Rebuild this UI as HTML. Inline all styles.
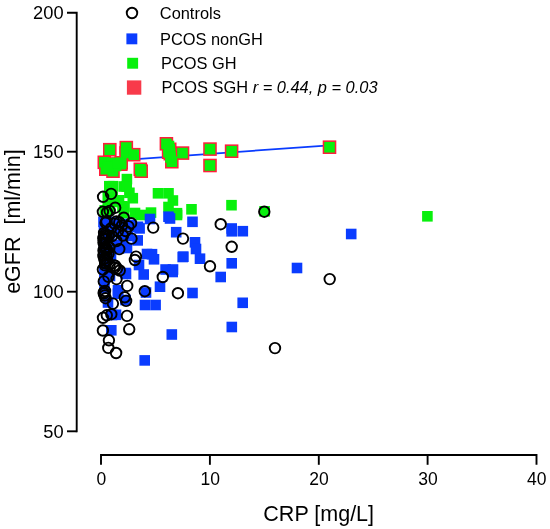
<!DOCTYPE html>
<html><head><meta charset="utf-8"><title>eGFR vs CRP</title>
<style>
html,body{margin:0;padding:0;background:#fff;}
body{width:550px;height:529px;overflow:hidden;}
svg{display:block;}
text{font-family:"Liberation Sans",Arial,sans-serif;fill:#000;}
.t{font-size:17.5px;}
.l{font-size:16.4px;}
.a{font-size:21.5px;}
</style></head><body>
<svg width="550" height="529" viewBox="0 0 550 529">
<rect width="550" height="529" fill="#fff"/>

<g stroke="#000" stroke-width="1.9" fill="none">
<path d="M67 12.7H76.7V432.2"/>
<path d="M67 151.7H76.7"/>
<path d="M67 291.7H76.7"/>
<path d="M67 431.3H76.7"/>
<path d="M101 464.8V455H536.5V464.8"/>
<path d="M209.9 455V464.8"/>
<path d="M318.8 455V464.8"/>
<path d="M427.6 455V464.8"/>
</g>
<text class="t" transform="translate(63.6 18.6) scale(1.045 1)" text-anchor="end">200</text>
<text class="t" transform="translate(63.6 157.6) scale(1.045 1)" text-anchor="end">150</text>
<text class="t" transform="translate(63.6 297.6) scale(1.045 1)" text-anchor="end">100</text>
<text class="t" transform="translate(63.6 437.8) scale(1.045 1)" text-anchor="end">50</text>
<text class="t" x="101.3" y="485.2" text-anchor="middle">0</text>
<text class="t" x="210.2" y="485.2" text-anchor="middle">10</text>
<text class="t" x="319.1" y="485.2" text-anchor="middle">20</text>
<text class="t" x="427.9" y="485.2" text-anchor="middle">30</text>
<text class="t" x="536.8" y="485.2" text-anchor="middle">40</text>
<text class="a" x="318.7" y="521" text-anchor="middle">CRP [mg/L]</text>
<text class="a" transform="translate(20.4 221.6) rotate(-90)" text-anchor="middle" xml:space="preserve">eGFR  [ml/min]</text>
<circle cx="132" cy="13" r="5.25" fill="none" stroke="#000" stroke-width="1.9"/>
<rect x="126.4" y="33.4" width="10.9" height="10.9" fill="#0a3cff"/>
<rect x="127.2" y="57.8" width="10.9" height="10.9" fill="#08f00c"/>
<rect x="126.9" y="80.4" width="14.4" height="14.3" fill="#f83a4a"/>
<text class="l" x="159.8" y="19">Controls</text>
<text class="l" x="160" y="44.5">PCOS nonGH</text>
<text class="l" x="161" y="68.7">PCOS GH</text>
<text class="l" x="161.6" y="92.7">PCOS SGH <tspan font-style="italic">r = 0.44, p = 0.03</tspan></text>
<path d="M101 161.6L329.5 145.3" stroke="#0a3cff" stroke-width="1.8" fill="none"/>
<g fill="#08f00c">
<rect x="104.0" y="180.9" width="10.6" height="10.6"/>
<rect x="107.8" y="180.9" width="10.6" height="10.6"/>
<rect x="102.5" y="191.7" width="10.6" height="10.6"/>
<rect x="107.3" y="191.2" width="10.6" height="10.6"/>
<rect x="121.6" y="173.8" width="10.6" height="10.6"/>
<rect x="118.6" y="181.2" width="10.6" height="10.6"/>
<rect x="121.4" y="181.2" width="10.6" height="10.6"/>
<rect x="124.1" y="187.5" width="10.6" height="10.6"/>
<rect x="127.5" y="192.9" width="10.6" height="10.6"/>
<rect x="113.7" y="195.0" width="10.6" height="10.6"/>
<rect x="117.2" y="201.0" width="10.6" height="10.6"/>
<rect x="119.2" y="201.7" width="10.6" height="10.6"/>
<rect x="118.7" y="207.9" width="10.6" height="10.6"/>
<rect x="102.5" y="201.7" width="10.6" height="10.6"/>
<rect x="102.5" y="204.9" width="10.6" height="10.6"/>
<rect x="99.5" y="205.0" width="10.6" height="10.6"/>
<rect x="103.4" y="202.7" width="10.6" height="10.6"/>
<rect x="107.7" y="196.7" width="10.6" height="10.6"/>
<rect x="129.7" y="207.7" width="10.6" height="10.6"/>
<rect x="145.7" y="207.3" width="10.6" height="10.6"/>
<rect x="135.4" y="209.7" width="10.6" height="10.6"/>
<rect x="152.7" y="188.0" width="10.6" height="10.6"/>
<rect x="163.2" y="188.0" width="10.6" height="10.6"/>
<rect x="167.6" y="195.2" width="10.6" height="10.6"/>
<rect x="163.2" y="201.7" width="10.6" height="10.6"/>
<rect x="171.7" y="209.7" width="10.6" height="10.6"/>
<rect x="171.7" y="207.9" width="10.6" height="10.6"/>
<rect x="186.2" y="204.0" width="10.6" height="10.6"/>
<rect x="226.2" y="199.9" width="10.6" height="10.6"/>
<rect x="259.3" y="206.0" width="10.6" height="10.6"/>
<rect x="422.1" y="211.0" width="10.6" height="10.6"/>
</g>
<g fill="#ff1e3c">
<rect x="103.0" y="142.9" width="13.6" height="13.6"/>
<rect x="119.5" y="140.8" width="13.6" height="13.6"/>
<rect x="119.2" y="146.2" width="13.6" height="13.6"/>
<rect x="126.9" y="147.9" width="13.6" height="13.6"/>
<rect x="133.5" y="162.5" width="13.6" height="13.6"/>
<rect x="134.4" y="164.4" width="13.6" height="13.6"/>
<rect x="97.5" y="155.5" width="13.6" height="13.6"/>
<rect x="99.0" y="162.4" width="13.6" height="13.6"/>
<rect x="106.2" y="164.4" width="13.6" height="13.6"/>
<rect x="114.4" y="156.0" width="13.6" height="13.6"/>
<rect x="114.0" y="157.4" width="13.6" height="13.6"/>
<rect x="105.7" y="157.2" width="13.6" height="13.6"/>
<rect x="159.6" y="137.0" width="13.6" height="13.6"/>
<rect x="162.9" y="142.5" width="13.6" height="13.6"/>
<rect x="161.8" y="145.4" width="13.6" height="13.6"/>
<rect x="163.5" y="146.9" width="13.6" height="13.6"/>
<rect x="165.0" y="154.9" width="13.6" height="13.6"/>
<rect x="175.7" y="146.3" width="13.6" height="13.6"/>
<rect x="203.2" y="142.3" width="13.6" height="13.6"/>
<rect x="203.2" y="158.7" width="13.6" height="13.6"/>
<rect x="224.8" y="144.4" width="13.6" height="13.6"/>
<rect x="322.7" y="140.4" width="13.6" height="13.6"/>
</g>
<g fill="#08f00c">
<rect x="104.45" y="144.45" width="10.6" height="10.6"/>
<rect x="120.95" y="142.25" width="10.6" height="10.6"/>
<rect x="120.70" y="147.70" width="10.6" height="10.6"/>
<rect x="128.40" y="149.40" width="10.6" height="10.6"/>
<rect x="135.00" y="164.00" width="10.6" height="10.6"/>
<rect x="135.90" y="165.90" width="10.6" height="10.6"/>
<rect x="99.00" y="157.00" width="10.6" height="10.6"/>
<rect x="100.50" y="163.90" width="10.6" height="10.6"/>
<rect x="107.70" y="165.90" width="10.6" height="10.6"/>
<rect x="115.90" y="157.50" width="10.6" height="10.6"/>
<rect x="115.50" y="158.90" width="10.6" height="10.6"/>
<rect x="107.20" y="158.70" width="10.6" height="10.6"/>
<rect x="161.15" y="138.50" width="10.6" height="10.6"/>
<rect x="164.40" y="144.00" width="10.6" height="10.6"/>
<rect x="163.30" y="146.90" width="10.6" height="10.6"/>
<rect x="165.00" y="148.40" width="10.6" height="10.6"/>
<rect x="166.55" y="156.40" width="10.6" height="10.6"/>
<rect x="177.20" y="147.80" width="10.6" height="10.6"/>
<rect x="204.70" y="143.80" width="10.6" height="10.6"/>
<rect x="204.70" y="160.20" width="10.6" height="10.6"/>
<rect x="226.30" y="145.90" width="10.6" height="10.6"/>
<rect x="324.20" y="141.90" width="10.6" height="10.6"/>
<rect x="106.70" y="157.90" width="10.6" height="10.6"/>
<rect x="110.70" y="160.70" width="10.6" height="10.6"/>
<rect x="102.70" y="161.70" width="10.6" height="10.6"/>
<rect x="112.20" y="157.70" width="10.6" height="10.6"/>
<rect x="163.20" y="142.70" width="10.6" height="10.6"/>
<rect x="165.20" y="152.20" width="10.6" height="10.6"/>
<rect x="163.70" y="140.70" width="10.6" height="10.6"/>
</g>
<g fill="#0a3cff">
<rect x="144.7" y="213.7" width="10.6" height="10.6"/>
<rect x="163.2" y="211.4" width="10.6" height="10.6"/>
<rect x="164.7" y="213.2" width="10.6" height="10.6"/>
<rect x="187.2" y="216.5" width="10.6" height="10.6"/>
<rect x="132.7" y="221.5" width="10.6" height="10.6"/>
<rect x="170.9" y="226.9" width="10.6" height="10.6"/>
<rect x="226.4" y="223.2" width="10.6" height="10.6"/>
<rect x="226.4" y="226.0" width="10.6" height="10.6"/>
<rect x="237.5" y="225.9" width="10.6" height="10.6"/>
<rect x="189.7" y="237.0" width="10.6" height="10.6"/>
<rect x="190.7" y="243.7" width="10.6" height="10.6"/>
<rect x="194.7" y="253.4" width="10.6" height="10.6"/>
<rect x="177.4" y="251.7" width="10.6" height="10.6"/>
<rect x="167.4" y="266.7" width="10.6" height="10.6"/>
<rect x="187.2" y="287.7" width="10.6" height="10.6"/>
<rect x="215.4" y="271.7" width="10.6" height="10.6"/>
<rect x="226.4" y="258.0" width="10.6" height="10.6"/>
<rect x="237.4" y="297.5" width="10.6" height="10.6"/>
<rect x="291.7" y="262.7" width="10.6" height="10.6"/>
<rect x="345.9" y="228.7" width="10.6" height="10.6"/>
<rect x="166.5" y="329.2" width="10.6" height="10.6"/>
<rect x="226.5" y="321.7" width="10.6" height="10.6"/>
<rect x="139.4" y="355.1" width="10.6" height="10.6"/>
<rect x="178.1" y="251.4" width="10.6" height="10.6"/>
<rect x="134.3" y="223.1" width="10.6" height="10.6"/>
<rect x="132.4" y="235.1" width="10.6" height="10.6"/>
<rect x="141.7" y="248.7" width="10.6" height="10.6"/>
<rect x="146.7" y="248.9" width="10.6" height="10.6"/>
<rect x="148.7" y="254.0" width="10.6" height="10.6"/>
<rect x="133.7" y="259.7" width="10.6" height="10.6"/>
<rect x="138.4" y="269.2" width="10.6" height="10.6"/>
<rect x="160.3" y="264.2" width="10.6" height="10.6"/>
<rect x="167.7" y="264.2" width="10.6" height="10.6"/>
<rect x="120.2" y="267.7" width="10.6" height="10.6"/>
<rect x="154.7" y="281.4" width="10.6" height="10.6"/>
<rect x="140.7" y="287.2" width="10.6" height="10.6"/>
<rect x="139.7" y="299.7" width="10.6" height="10.6"/>
<rect x="150.3" y="299.7" width="10.6" height="10.6"/>
<rect x="106.0" y="325.0" width="10.6" height="10.6"/>
<rect x="110.7" y="309.5" width="10.6" height="10.6"/>
<rect x="102.7" y="297.2" width="10.6" height="10.6"/>
<rect x="112.7" y="285.0" width="10.6" height="10.6"/>
<rect x="112.7" y="288.4" width="10.6" height="10.6"/>
<rect x="120.2" y="294.7" width="10.6" height="10.6"/>
<rect x="98.2" y="216.5" width="10.6" height="10.6"/>
<rect x="102.7" y="217.2" width="10.6" height="10.6"/>
<rect x="107.7" y="216.7" width="10.6" height="10.6"/>
<rect x="112.7" y="218.2" width="10.6" height="10.6"/>
<rect x="118.7" y="218.7" width="10.6" height="10.6"/>
<rect x="124.7" y="219.7" width="10.6" height="10.6"/>
<rect x="98.7" y="225.7" width="10.6" height="10.6"/>
<rect x="104.7" y="227.7" width="10.6" height="10.6"/>
<rect x="110.7" y="226.7" width="10.6" height="10.6"/>
<rect x="116.7" y="228.7" width="10.6" height="10.6"/>
<rect x="122.7" y="230.7" width="10.6" height="10.6"/>
<rect x="98.7" y="236.7" width="10.6" height="10.6"/>
<rect x="104.7" y="238.7" width="10.6" height="10.6"/>
<rect x="110.7" y="239.7" width="10.6" height="10.6"/>
<rect x="116.7" y="240.7" width="10.6" height="10.6"/>
<rect x="121.7" y="242.7" width="10.6" height="10.6"/>
<rect x="99.2" y="248.7" width="10.6" height="10.6"/>
<rect x="105.7" y="250.7" width="10.6" height="10.6"/>
<rect x="99.2" y="260.7" width="10.6" height="10.6"/>
<rect x="99.2" y="268.7" width="10.6" height="10.6"/>
<rect x="99.2" y="273.7" width="10.6" height="10.6"/>
<rect x="104.7" y="270.7" width="10.6" height="10.6"/>
<rect x="99.2" y="282.7" width="10.6" height="10.6"/>
<rect x="120.7" y="268.7" width="10.6" height="10.6"/>
<rect x="113.7" y="243.0" width="10.6" height="10.6"/>
<rect x="106.7" y="309.7" width="10.6" height="10.6"/>
</g>
<g fill="none" stroke="#000" stroke-width="1.9">
<circle cx="103.1" cy="196.8" r="5.25"/>
<circle cx="111.1" cy="193.9" r="5.25"/>
<circle cx="115.2" cy="207.7" r="5.25"/>
<circle cx="102.9" cy="211.8" r="5.25"/>
<circle cx="107.0" cy="212.3" r="5.25"/>
<circle cx="109.7" cy="210.9" r="5.25"/>
<circle cx="123.8" cy="217.7" r="5.25"/>
<circle cx="131.1" cy="223.2" r="5.25"/>
<circle cx="116.5" cy="221.4" r="5.25"/>
<circle cx="119.3" cy="222.3" r="5.25"/>
<circle cx="106.5" cy="221.4" r="5.25"/>
<circle cx="153.2" cy="227.6" r="5.25"/>
<circle cx="131.5" cy="238.6" r="5.25"/>
<circle cx="183.0" cy="238.6" r="5.25"/>
<circle cx="136.0" cy="256.6" r="5.25"/>
<circle cx="134.9" cy="260.0" r="5.25"/>
<circle cx="162.8" cy="277.0" r="5.25"/>
<circle cx="119.3" cy="249.1" r="5.25"/>
<circle cx="220.7" cy="224.2" r="5.25"/>
<circle cx="264.3" cy="211.7" r="5.25"/>
<circle cx="231.7" cy="246.8" r="5.25"/>
<circle cx="210.0" cy="266.3" r="5.25"/>
<circle cx="177.9" cy="293.2" r="5.25"/>
<circle cx="329.7" cy="279.1" r="5.25"/>
<circle cx="275.0" cy="348.1" r="5.25"/>
<circle cx="144.8" cy="291.2" r="5.25"/>
<circle cx="127.2" cy="285.9" r="5.25"/>
<circle cx="124.7" cy="297.3" r="5.25"/>
<circle cx="126.1" cy="300.9" r="5.25"/>
<circle cx="112.9" cy="303.6" r="5.25"/>
<circle cx="127.0" cy="315.9" r="5.25"/>
<circle cx="129.2" cy="329.3" r="5.25"/>
<circle cx="103.0" cy="317.8" r="5.25"/>
<circle cx="106.8" cy="315.3" r="5.25"/>
<circle cx="111.3" cy="314.2" r="5.25"/>
<circle cx="102.9" cy="330.5" r="5.25"/>
<circle cx="108.9" cy="340.3" r="5.25"/>
<circle cx="108.3" cy="347.9" r="5.25"/>
<circle cx="116.1" cy="353.0" r="5.25"/>
<circle cx="114.7" cy="267.7" r="5.25"/>
<circle cx="117.0" cy="268.6" r="5.25"/>
<circle cx="119.7" cy="270.5" r="5.25"/>
<circle cx="116.5" cy="279.1" r="5.25"/>
<circle cx="108.4" cy="276.8" r="5.25"/>
<circle cx="103.8" cy="281.4" r="5.25"/>
<circle cx="102.9" cy="269.5" r="5.25"/>
<circle cx="103.8" cy="292.3" r="5.25"/>
<circle cx="105.0" cy="291.0" r="5.25"/>
<circle cx="103.8" cy="293.6" r="5.25"/>
<circle cx="104.7" cy="295.5" r="5.25"/>
<circle cx="105.6" cy="298.2" r="5.25"/>
<circle cx="105.6" cy="222.7" r="5.25"/>
<circle cx="114.7" cy="223.6" r="5.25"/>
<circle cx="122.0" cy="225.5" r="5.25"/>
<circle cx="128.4" cy="226.4" r="5.25"/>
<circle cx="125.6" cy="231.0" r="5.25"/>
<circle cx="123.0" cy="235.5" r="5.25"/>
<circle cx="116.5" cy="241.0" r="5.25"/>
<circle cx="111.0" cy="228.5" r="5.25"/>
<circle cx="118.0" cy="231.0" r="5.25"/>
<circle cx="112.0" cy="236.0" r="5.25"/>
<circle cx="106.0" cy="247.9" r="5.25"/>
<circle cx="105.4" cy="263.5" r="5.25"/>
<circle cx="106.2" cy="249.8" r="5.25"/>
<circle cx="105.7" cy="239.1" r="5.25"/>
<circle cx="108.5" cy="253.8" r="5.25"/>
<circle cx="104.5" cy="236.1" r="5.25"/>
<circle cx="108.8" cy="236.0" r="5.25"/>
<circle cx="103.4" cy="255.9" r="5.25"/>
<circle cx="114.3" cy="265.4" r="5.25"/>
<circle cx="106.5" cy="254.6" r="5.25"/>
<circle cx="103.3" cy="238.2" r="5.25"/>
<circle cx="103.5" cy="250.4" r="5.25"/>
<circle cx="104.2" cy="239.3" r="5.25"/>
<circle cx="105.4" cy="234.0" r="5.25"/>
<circle cx="109.4" cy="247.5" r="5.25"/>
<circle cx="106.7" cy="250.1" r="5.25"/>
<circle cx="106.9" cy="249.5" r="5.25"/>
<circle cx="104.4" cy="248.1" r="5.25"/>
<circle cx="115.3" cy="265.9" r="5.25"/>
<circle cx="107.4" cy="260.7" r="5.25"/>
<circle cx="104.2" cy="243.4" r="5.25"/>
<circle cx="103.5" cy="242.5" r="5.25"/>
<circle cx="105.0" cy="258.3" r="5.25"/>
<circle cx="104.9" cy="260.9" r="5.25"/>
<circle cx="109.5" cy="264.6" r="5.25"/>
<circle cx="104.1" cy="233.0" r="5.25"/>
<circle cx="105.4" cy="263.0" r="5.25"/>
<circle cx="105.0" cy="265.4" r="5.25"/>
<circle cx="106.6" cy="235.4" r="5.25"/>
<circle cx="104.3" cy="258.7" r="5.25"/>
</g>
</svg></body></html>
